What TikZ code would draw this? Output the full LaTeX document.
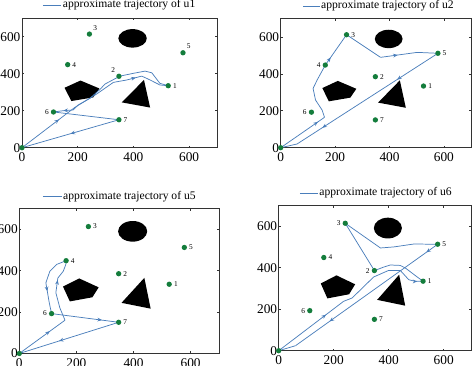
\documentclass[tikz,border=0pt]{standalone}
\usepackage{fontspec}
\setmainfont{Liberation Serif}
\usetikzlibrary{arrows.meta,decorations.markings}

\definecolor{trajblue}{RGB}{74,126,187}
\definecolor{sitegreen}{RGB}{20,125,60}

\tikzset{
  traj/.style={draw=trajblue, line width=0.55pt, line join=round},
  arrowat/.style={postaction={decorate, decoration={markings,
      mark=at position #1 with {\arrow[trajblue]{Stealth[length=3.4pt, width=2.8pt]}}}}},
  site/.style={circle, fill=sitegreen, inner sep=0pt, minimum size=4pt},
  sitelbl/.style={font=\fontsize{5.5}{6}\selectfont, inner sep=1.2pt},
  axisbox/.style={draw=black!80, line width=0.6pt},
  ticklbl/.style={font=\fontsize{10}{12}\selectfont},
  legendtxt/.style={font=\fontsize{8.7}{10}\selectfont, inner sep=0pt, anchor=west},
}

% obstacles, frame and ticks, in map units
\newcommand{\drawmap}{%
  \fill (397,591) ellipse [x radius=51, y radius=50];
  \fill (210,363) -- (278,320) -- (256,272) -- (177,252) -- (153,324) -- cycle;
  \fill (438,366) -- (358,245) -- (460,217) -- cycle;
  \draw[axisbox] (0,0) rectangle (700,700);
  \foreach \t in {200,400,600} {
    \draw[axisbox] (\t,0) -- (\t,10) (\t,700) -- (\t,690)
                   (0,\t) -- (7,\t) (700,\t) -- (693,\t);
  }
  \foreach \t in {0,200,400,600} {
    \node[ticklbl, anchor=north, inner sep=3.3pt] (xt\t) at (\t,0) {\t};
    \node[ticklbl, anchor=east, inner sep=1pt] (yt\t) at (0,\t) {\t};
  }
}

\newcommand{\placesites}{%
  \coordinate (o) at (0,0);
  \coordinate (p1) at (525,335);
  \coordinate (p2) at (348,386);
  \coordinate (p3) at (242,614);
  \coordinate (p4) at (164,449);
  \coordinate (p5) at (578,513);
  \coordinate (p6) at (113,193);
  \coordinate (p7) at (348,151);
}

\newcommand{\marksites}[7]{%
  \node[site] (s0) at (o) {};
  \node[site, label={[sitelbl]#1:1}] (s1) at (p1) {};
  \node[site, label={[sitelbl]#2:2}] (s2) at (p2) {};
  \node[site, label={[sitelbl]#3:3}] (s3) at (p3) {};
  \node[site, label={[sitelbl]#4:4}] (s4) at (p4) {};
  \node[site, label={[sitelbl]#5:5}] (s5) at (p5) {};
  \node[site, label={[sitelbl]#6:6}] (s6) at (p6) {};
  \node[site, label={[sitelbl]#7:7}] (s7) at (p7) {};
}

\begin{document}
\begin{tikzpicture}[x=0.75pt, y=0.75pt]
\useasboundingbox (0,0) rectangle (474,366);

% u1
\begin{scope}[shift={(22,218.3)}, xscale=.2785, yscale=.185]
\drawmap
\placesites
\draw[traj, arrowat=.7] (o) -- (190,218);
\draw[traj] (190,218) -- (268,290) -- (328,353) -- (376,366);
\draw[traj, arrowat=.6] (376,366) -- (430,387);
\draw[traj] (430,387) -- (460,366) -- (495,339) -- (p1);
\draw[traj] (p1) -- (495,348) -- (466,405) -- (442,414) -- (400,402) -- (352,387)
  -- (298,344) -- (280,315) -- (244,267) -- (202,231) -- (184,204);
\draw[traj, arrowat=.5] (184,204) -- (148,200) -- (p6);
\draw[traj] (p6) -- (p7);
\draw[traj, arrowat=.5] (p7) -- (o);
\marksites{right}{above left}{above right}{right}{above right}{left}{right}
\coordinate (l1a) at (75,771);
\coordinate (l1b) at (140,771);
\draw[traj] (l1a) -- (l1b);
\node[legendtxt] (leg1) at (146,771) {approximate trajectory of u1};
\end{scope}

% u2
\begin{scope}[shift={(280.7,218.3)}, xscale=.272, yscale=.184]
\drawmap
\placesites
\draw[traj, arrowat=.85] (o) -- (161,165);
\draw[traj] (161,165) -- (152,205) -- (128,259) -- (119,322) -- (134,368) -- (p4);
\draw[traj, arrowat=.25] (p4) -- (p3);
\draw[traj] (p3) -- (367,491);
\draw[traj, arrowat=.3] (367,491) -- (502,518) -- (p5);
\draw[traj, arrowat=.29, arrowat=.82] (p5) -- (60,20);
\draw[traj] (60,20) -- (o);
\marksites{right}{right}{right}{left}{right}{left}{right}
\coordinate (l2a) at (82,770);
\coordinate (l2b) at (144,770);
\draw[traj] (l2a) -- (l2b);
\node[legendtxt] (leg2) at (148,770) {approximate trajectory of u2};
\end{scope}

% u5
\begin{scope}[shift={(19.3,12.5)}, xscale=.2855, yscale=.2067]
\drawmap
\placesites
\draw[traj, arrowat=.67] (o) -- (160,161);
\draw[traj] (160,161) -- (142,221) -- (128,294);
\draw[traj, arrowat=.37] (128,294) -- (135,365) -- (154,398) -- (163,431) -- (p4);
\draw[traj] (p4) -- (131,431) -- (107,398) -- (93,342);
\draw[traj, arrowat=.27] (93,342) -- (105,245) -- (p6);
\draw[traj, arrowat=.75] (p6) -- (p7);
\draw[traj, arrowat=.6] (p7) -- (o);
\marksites{right}{right}{right}{right}{right}{left}{right}
\coordinate (l5a) at (83,760);
\coordinate (l5b) at (150,760);
\draw[traj] (l5a) -- (l5b);
\node[legendtxt] (leg5) at (153,760) {approximate trajectory of u5};
\end{scope}

% u6
\begin{scope}[shift={(278.7,15.3)}, xscale=.275, yscale=.2075]
\drawmap
\placesites
\draw[traj, arrowat=.73] (o) -- (236,238);
\draw[traj] (236,238) -- (267,254) -- (345,355) -- (400,387) -- (442,387) -- (473,342);
\draw[traj, arrowat=.6] (473,342) -- (497,334) -- (p1);
\draw[traj] (p1) -- (509,350) -- (461,398) -- (442,411) -- (406,413) -- (382,403) -- (p2);
\draw[traj] (p2) -- (p3);
\draw[traj] (p3) -- (370,495) -- (418,500) -- (491,514) -- (p5);
\draw[traj, arrowat=.08, arrowat=.76] (p5) -- (61,24);
\draw[traj] (61,24) -- (o);
\marksites{right}{left}{left}{right}{right}{left}{right}
\coordinate (l6a) at (77,760);
\coordinate (l6b) at (143,760);
\draw[traj] (l6a) -- (l6b);
\node[legendtxt] (leg6) at (147,760) {approximate trajectory of u6};
\end{scope}
\end{tikzpicture}
\end{document}
